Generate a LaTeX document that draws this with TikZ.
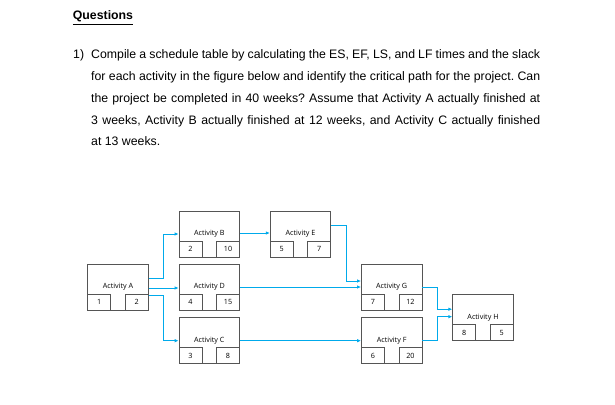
\documentclass[tikz,border=0pt]{standalone}
\usepackage{fontspec}
\setmainfont{Liberation Sans}
\newfontfamily\boxfont{Open Sans}
\usetikzlibrary{arrows.meta}
\frenchspacing

\definecolor{flowblue}{RGB}{0,170,235}
\definecolor{boxgray}{RGB}{85,85,85}

\tikzset{
  act/.style={draw=boxgray, line width=0.8pt, minimum width=60.5pt, minimum height=46pt, inner sep=0pt, font=\boxfont\fontsize{7.2}{8}\selectfont},
  cell/.style={draw=boxgray, line width=0.8pt, minimum width=23pt, minimum height=16pt, inner sep=0pt, font=\boxfont\fontsize{7.2}{8}\selectfont},
  flow/.style={draw=flowblue, line width=1pt, -{Latex[length=4pt,width=3.5pt]}},
  txt/.style={anchor=base west, inner sep=0pt, font=\fontsize{12.3}{14}\selectfont}
}

\begin{document}
\begin{tikzpicture}[x=1pt, y=-1pt]
  \useasboundingbox[fill=white] (0,0) rectangle (615,404);

  % Question text
  \node[txt] (head) at (72.7,20) {\underline{\textbf{Questions}}};
  \node[txt] (num) at (73,59) {1)};
  \node[txt] (l1) at (91,59) {\makebox[449pt][s]{Compile a schedule table by calculating the ES, EF, LS, and LF times and the slack}};
  \node[txt] (l2) at (91,80.7) {\makebox[449pt][s]{for each activity in the figure below and identify the critical path for the project. Can}};
  \node[txt] (l3) at (91,102.3) {\makebox[449pt][s]{the project be completed in 40 weeks? Assume that Activity A actually finished at}};
  \node[txt] (l4) at (91,124) {\makebox[449pt][s]{3 weeks, Activity B actually finished at 12 weeks, and Activity C actually finished}};
  \node[txt] (l5) at (91,145.7) {at 13 weeks.};

  % Activity boxes
  \node[act] (A) at (118,287) {Activity A};
  \node[act] (B) at (209.3,234) {Activity B};
  \node[act] (E) at (300.5,234) {Activity E};
  \node[act] (D) at (209.3,287) {Activity D};
  \node[act] (C) at (209.3,340.7) {Activity C};
  \node[act] (G) at (391.7,287) {Activity G};
  \node[act] (F) at (391.7,340.7) {Activity F};
  \node[act] (H) at (483,317.7) {Activity H};

  % Cells
  \node[cell, anchor=south west] (A1) at (A.south west) {1};
  \node[cell, anchor=south east] (A2) at (A.south east) {2};
  \node[cell, anchor=south west] (B1) at (B.south west) {2};
  \node[cell, anchor=south east] (B2) at (B.south east) {10};
  \node[cell, anchor=south west] (E1) at (E.south west) {5};
  \node[cell, anchor=south east] (E2) at (E.south east) {7};
  \node[cell, anchor=south west] (D1) at (D.south west) {4};
  \node[cell, anchor=south east] (D2) at (D.south east) {15};
  \node[cell, anchor=south west] (C1) at (C.south west) {3};
  \node[cell, anchor=south east] (C2) at (C.south east) {8};
  \node[cell, anchor=south west] (G1) at (G.south west) {7};
  \node[cell, anchor=south east] (G2) at (G.south east) {12};
  \node[cell, anchor=south west] (F1) at (F.south west) {6};
  \node[cell, anchor=south east] (F2) at (F.south east) {20};
  \node[cell, anchor=south west] (H1) at (H.south west) {8};
  \node[cell, anchor=south east] (H2) at (H.south east) {5};

  % Turning points and entry points
  \coordinate (jA) at (163.3,0);
  \coordinate (jE) at (346,0);
  \coordinate (jG) at (437.7,0);
  \coordinate (Gin) at ([yshift=6pt]G.west);
  \coordinate (Hin1) at ([yshift=8.5pt]H.west);
  \coordinate (Hin2) at ([yshift=1pt]H.west);

  % Connectors
  \draw[flow] ([yshift=8.5pt]A.east) -| (jA |- B.west) -- (B.west);
  \draw[flow] ([yshift=-1pt]A.east) -- ([yshift=-1pt]D.west);
  \draw[flow] ([yshift=-8pt]A.east) -| (jA |- C.west) -- (C.west);
  \draw[flow] ([yshift=1pt]B.east) -- ([yshift=1pt]E.west);
  \draw[flow] ([yshift=8.5pt]E.east) -| (jE |- Gin) -- (Gin);
  \draw[flow] (D.east) -- (G.west);
  \draw[flow] (C.east) -- (F.west);
  \draw[flow] (G.east) -| (jG |- Hin1) -- (Hin1);
  \draw[flow] (F.east) -| (jG |- Hin2) -- (Hin2);
\end{tikzpicture}
\end{document}
